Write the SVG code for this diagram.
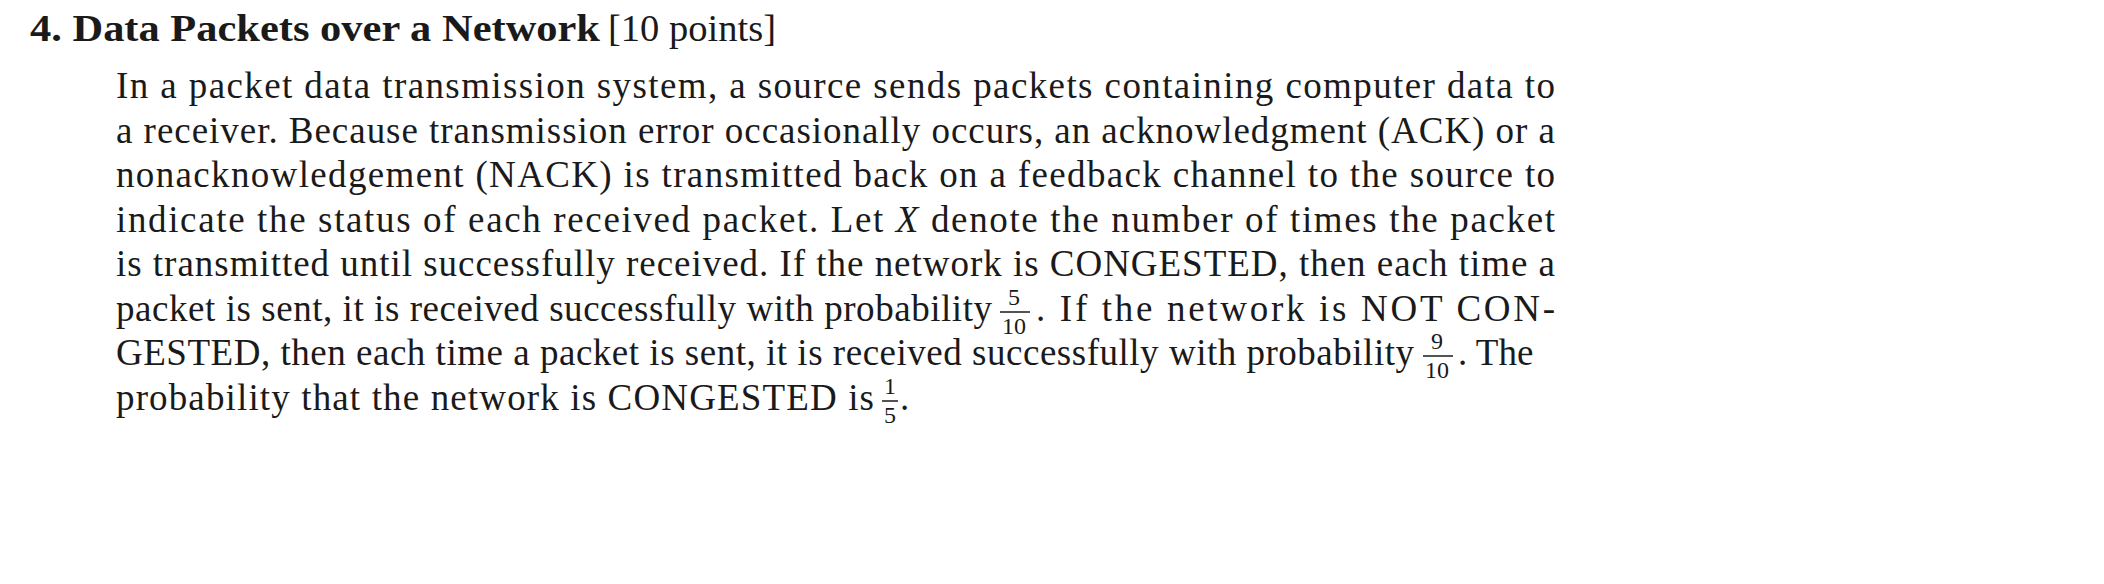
<svg xmlns="http://www.w3.org/2000/svg" width="2104" height="584" viewBox="0 0 2104 584">
<style>
text{font-family:"Liberation Serif","DejaVu Serif",serif;fill:#1a1a1a;font-size:37px}
.h{font-weight:bold}
.f{font-size:24px}
line{stroke:#1a1a1a;stroke-width:1.5}
</style>
<rect width="2104" height="584" fill="#fff"/>
<g id="heading">
<text x="30" y="41" class="h" textLength="570" lengthAdjust="spacingAndGlyphs">4.  Data Packets over a Network</text>
<text x="608" y="41" textLength="168" lengthAdjust="spacingAndGlyphs">[10 points]</text>
</g>
<g id="body">
<text x="116" y="98" textLength="1439" lengthAdjust="spacing">In a packet data transmission system, a source sends packets containing computer data to</text>
<text x="116" y="143" textLength="1439" lengthAdjust="spacing">a receiver.  Because transmission error occasionally occurs, an acknowledgment (ACK) or a</text>
<text x="116" y="187" textLength="1439" lengthAdjust="spacing">nonacknowledgement (NACK) is transmitted back on a feedback channel to the source to</text>
<text x="116" y="232" textLength="1439" lengthAdjust="spacing">indicate the status of each received packet.  Let <tspan font-style="italic">X</tspan> denote the number of times the packet</text>
<text x="116" y="276" textLength="1439" lengthAdjust="spacing">is transmitted until successfully received. If the network is CONGESTED, then each time a</text>
<text x="116" y="321" textLength="876" lengthAdjust="spacing">packet is sent, it is received successfully with probability</text>
<text x="1008" y="305" class="f">5</text><line x1="1000" y1="312" x2="1030" y2="312"/><text x="1002" y="334" class="f">10</text>
<text x="1036" y="321" textLength="519" lengthAdjust="spacing">.  If the network is NOT CON-</text>
<text x="116" y="365" textLength="1298" lengthAdjust="spacing">GESTED, then each time a packet is sent, it is received successfully with probability</text>
<text x="1431" y="349" class="f">9</text><line x1="1423" y1="356" x2="1453" y2="356"/><text x="1425" y="378" class="f">10</text>
<text x="1458" y="365">.  The</text>
<text x="116" y="410" textLength="758" lengthAdjust="spacing">probability that the network is CONGESTED is</text>
<text x="884" y="394" class="f">1</text><line x1="882" y1="401" x2="898" y2="401"/><text x="884" y="423" class="f">5</text>
<text x="900" y="410">.</text>
</g>
</svg>
